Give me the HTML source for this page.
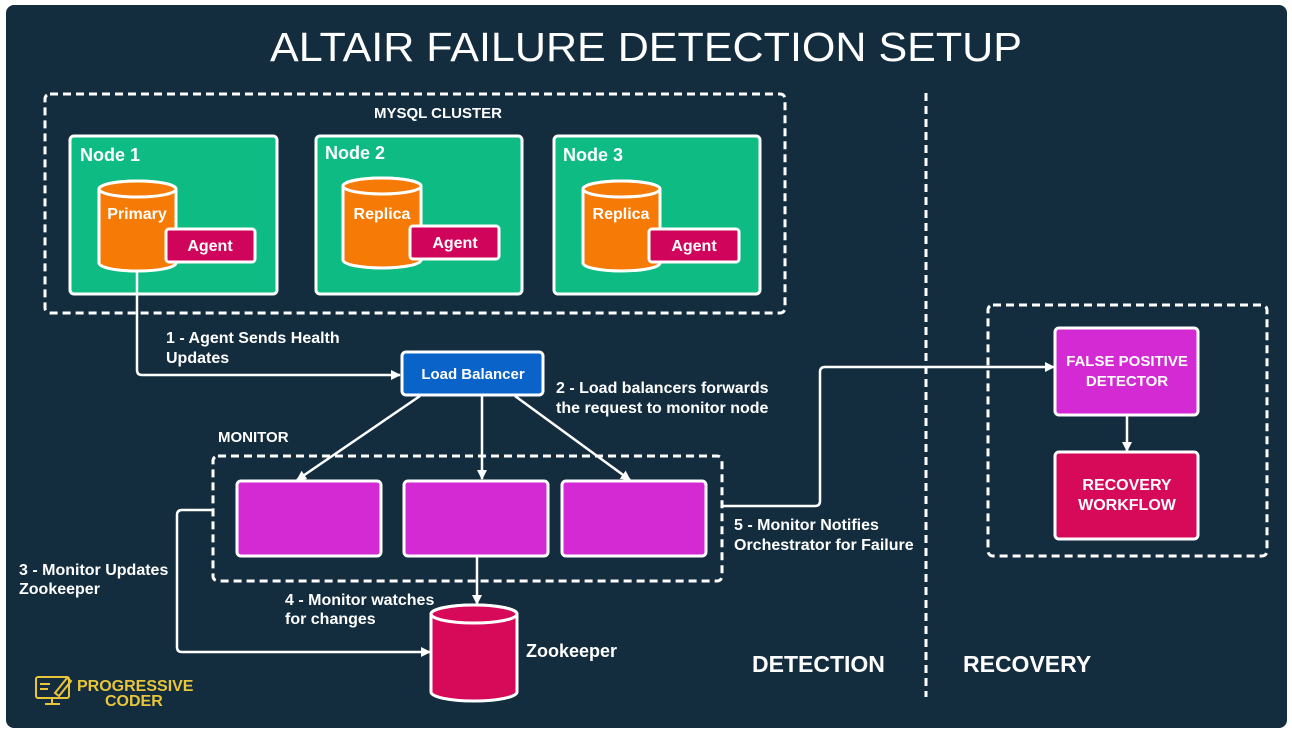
<!DOCTYPE html>
<html><head><meta charset="utf-8"><style>
html,body{margin:0;padding:0;background:#fff;}
svg{display:block;}
text{font-family:"Liberation Sans",sans-serif;fill:#fff;}
.b{font-weight:bold;}
</style></head><body>
<svg width="1292" height="733" viewBox="0 0 1292 733" xmlns="http://www.w3.org/2000/svg">
<defs>
<marker id="ar" viewBox="0 0 10 10" refX="9" refY="5" markerWidth="4" markerHeight="4" orient="auto"><path d="M0,0 L10,5 L0,10 z" fill="#fff"/></marker>
</defs>
<rect x="6" y="5" width="1281" height="723" rx="8" fill="#132d3f"/>
<text x="646" y="61" font-size="41" text-anchor="middle" textLength="752" lengthAdjust="spacingAndGlyphs">ALTAIR FAILURE DETECTION SETUP</text>

<g fill="none" stroke="#fff" stroke-width="3" stroke-dasharray="8,5">
<rect x="45" y="94" width="740" height="219" rx="5"/>
<rect x="213" y="456" width="509" height="125" rx="5"/>
<rect x="988" y="305" width="279" height="251" rx="5"/>
<line x1="926" y1="93" x2="926" y2="697"/>
</g>
<text x="438" y="118" font-size="15" class="b" text-anchor="middle">MYSQL CLUSTER</text>

<g stroke="#fff" stroke-width="3">
<rect x="70" y="136" width="207" height="158" rx="4" fill="#0dbb83"/>
<rect x="316" y="136" width="206" height="158" rx="4" fill="#0dbb83"/>
<rect x="554" y="136" width="206" height="158" rx="4" fill="#0dbb83"/>
</g>
<text x="80" y="161" font-size="18" class="b">Node 1</text>
<text x="325" y="159" font-size="18" class="b">Node 2</text>
<text x="563" y="161" font-size="18" class="b">Node 3</text>

<g stroke="#fff" stroke-width="3" fill="#f57a06">
<path d="M99,189 v74 a38.5,8 0 0 0 77,0 v-74 a38.5,8 0 0 0 -77,0 z"/><ellipse cx="137.5" cy="189" rx="38.5" ry="8"/>
<path d="M343,186 v74 a39,8 0 0 0 78,0 v-74 a39,8 0 0 0 -78,0 z"/><ellipse cx="382" cy="186" rx="39" ry="8"/>
<path d="M583,189 v74 a38.5,8 0 0 0 77,0 v-74 a38.5,8 0 0 0 -77,0 z"/><ellipse cx="621.5" cy="189" rx="38.5" ry="8"/>
</g>
<text x="137" y="219" font-size="16" class="b" text-anchor="middle">Primary</text>
<text x="382" y="219" font-size="16" class="b" text-anchor="middle">Replica</text>
<text x="621" y="219" font-size="16" class="b" text-anchor="middle">Replica</text>
<g stroke="#fff" stroke-width="3" fill="#d0045b">
<rect x="166" y="229" width="89" height="33" rx="3"/>
<rect x="410" y="226" width="89" height="33" rx="3"/>
<rect x="649" y="229" width="90" height="33" rx="3"/>
</g>
<text x="210" y="251" font-size="16" class="b" text-anchor="middle">Agent</text>
<text x="455" y="248" font-size="16" class="b" text-anchor="middle">Agent</text>
<text x="694" y="251" font-size="16" class="b" text-anchor="middle">Agent</text>

<g fill="none" stroke="#fff" stroke-width="2.5" stroke-linejoin="round">
<path d="M137,272 V370 q0,5 5,5 H400" marker-end="url(#ar)"/>
<line x1="420" y1="396" x2="297" y2="480" marker-end="url(#ar)"/>
<line x1="482" y1="396" x2="482" y2="479" marker-end="url(#ar)"/>
<line x1="515" y1="396" x2="630" y2="480" marker-end="url(#ar)"/>
<path d="M213,510 H182 q-5,0 -5,5 V647 q0,5 5,5 H430" marker-end="url(#ar)"/>
<line x1="477" y1="557" x2="477" y2="604" marker-end="url(#ar)"/>
<path d="M722,506 H815 q5,0 5,-5 V372 q0,-5 5,-5 H1054" marker-end="url(#ar)"/>
<line x1="1127" y1="416" x2="1127" y2="451" marker-end="url(#ar)"/>
</g>

<rect x="402" y="352" width="141" height="43" rx="4" fill="#0a63c9" stroke="#fff" stroke-width="3"/>
<text x="473" y="379" font-size="15" class="b" text-anchor="middle">Load Balancer</text>

<text x="166" y="343" font-size="16" class="b">1 - Agent Sends Health</text>
<text x="166" y="363" font-size="16" class="b">Updates</text>
<text x="556" y="393" font-size="16" class="b">2 - Load balancers forwards</text>
<text x="556" y="413" font-size="16" class="b">the request to monitor node</text>
<text x="218" y="442" font-size="15" class="b">MONITOR</text>

<g stroke="#fff" stroke-width="3" fill="#d42ad4">
<rect x="237" y="481" width="144" height="75" rx="4"/>
<rect x="404" y="481" width="144" height="75" rx="4"/>
<rect x="562" y="481" width="144" height="75" rx="4"/>
</g>

<text x="19" y="575" font-size="16" class="b">3 - Monitor Updates</text>
<text x="19" y="594" font-size="16" class="b">Zookeeper</text>
<text x="285" y="605" font-size="16" class="b">4 - Monitor watches</text>
<text x="285" y="624" font-size="16" class="b">for changes</text>
<text x="734" y="530" font-size="16" class="b">5 - Monitor Notifies</text>
<text x="734" y="550" font-size="16" class="b">Orchestrator for Failure</text>

<g stroke="#fff" stroke-width="3" fill="#d70a5a">
<path d="M431,614 v78 a43,9 0 0 0 86,0 v-78 a43,9 0 0 0 -86,0 z"/><ellipse cx="474" cy="614" rx="43" ry="9"/>
</g>
<text x="526" y="657" font-size="18" class="b">Zookeeper</text>

<text x="752" y="672" font-size="23" class="b">DETECTION</text>
<text x="963" y="672" font-size="23" class="b">RECOVERY</text>

<rect x="1055" y="328" width="143" height="87" rx="4" fill="#d42ad4" stroke="#fff" stroke-width="3"/>
<text x="1127" y="366" font-size="15" class="b" text-anchor="middle">FALSE POSITIVE</text>
<text x="1127" y="386" font-size="15" class="b" text-anchor="middle">DETECTOR</text>
<rect x="1055" y="452" width="143" height="87" rx="4" fill="#d70a5a" stroke="#fff" stroke-width="3"/>
<text x="1127" y="490" font-size="16" class="b" text-anchor="middle">RECOVERY</text>
<text x="1127" y="510" font-size="16" class="b" text-anchor="middle">WORKFLOW</text>

<g stroke="#e8c53a" stroke-width="2" fill="none">
<rect x="36" y="677" width="33" height="21" rx="2"/>
<line x1="52" y1="698" x2="52" y2="703"/><line x1="45" y1="704" x2="60" y2="704"/>
<line x1="40" y1="684" x2="50" y2="684"/><line x1="40" y1="689" x2="48" y2="689"/>
<path d="M55,693 L67,678 L71,681 L59,696 z"/>
</g>
<text x="77" y="691" font-size="16" class="b" style="fill:#e8c53a">PROGRESSIVE</text>
<text x="105" y="706" font-size="16" class="b" style="fill:#e8c53a">CODER</text>
</svg>
</body></html>
